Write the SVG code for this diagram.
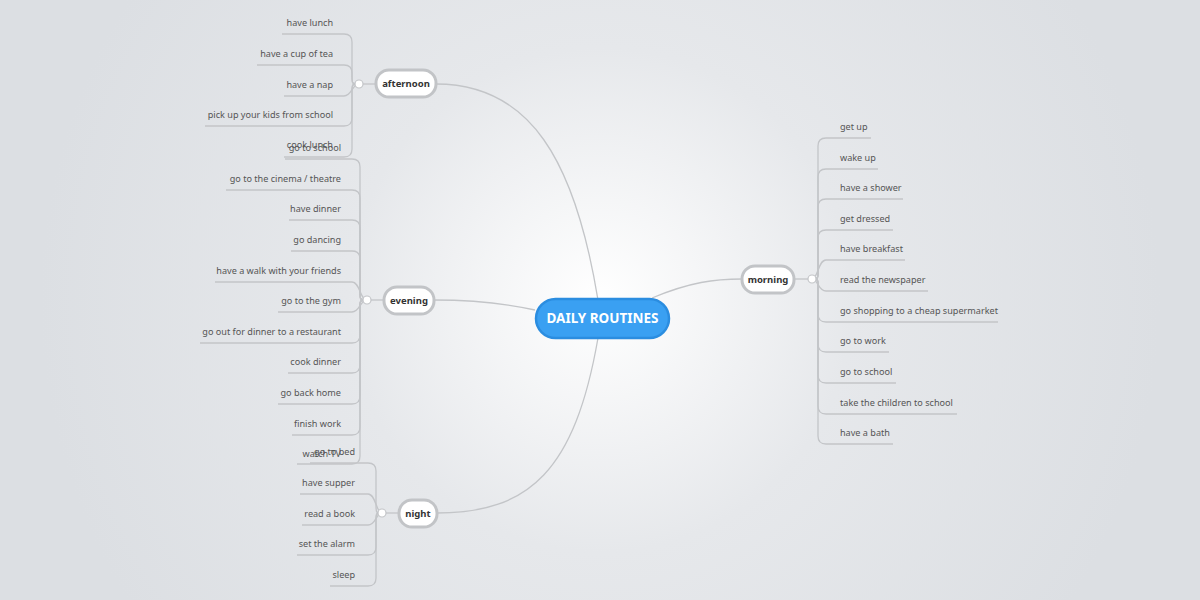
<svg xmlns="http://www.w3.org/2000/svg" width="1200" height="600" viewBox="0 0 1200 600">
<defs>
<radialGradient id="bg" cx="600" cy="300" r="560" gradientUnits="userSpaceOnUse">
<stop offset="0" stop-color="#ffffff"/><stop offset="0.45" stop-color="#e6e8eb"/><stop offset="1" stop-color="#dcdfe3"/>
</radialGradient>
<style>
.ln{fill:none;stroke:#c3c5c8;stroke-width:1.3}
.lf{font-family:"Noto Sans","Liberation Sans",sans-serif;font-size:9.1px;fill:#555}
.r{text-anchor:end}
.nd rect{fill:#fff;stroke:#c2c4c7;stroke-width:3}
.nd text{font-family:"Noto Sans","Liberation Sans",sans-serif;font-size:9.5px;font-weight:bold;fill:#333;text-anchor:middle}
.jc{fill:#fff;stroke:#c3c5c8;stroke-width:1.2}
</style>
</defs>
<rect width="1200" height="600" fill="url(#bg)"/>
<g id="connectors">
<path class="ln" d="M598,300 C575,160 530,84 436,84"/>
<path class="ln" d="M535,310 Q490,300 434,300"/>
<path class="ln" d="M598,338 C575,470 530,513 437,513"/>
<path class="ln" d="M652,298 C690,282 715,279 742,279"/>
<path class="ln" d="M376,84 H363"/>
<path class="ln" d="M384,300 H371"/>
<path class="ln" d="M399,513 H386"/>
<path class="ln" d="M794,279 H808"/>
<path class="ln" d="M359,84 C352,84 352,84 352,76 L352,42 Q352,34 344,34 H282"/>
<path class="ln" d="M359,84 C352,84 352,84 352,76 L352,73 Q352,65 344,65 H257"/>
<path class="ln" d="M359,84 C352,84 352,96 344,96 H284"/>
<path class="ln" d="M359,84 C352,84 352,84 352,92 L352,118 Q352,126 344,126 H205"/>
<path class="ln" d="M359,84 C352,84 352,84 352,92 L352,149 Q352,157 344,157 H284"/>
<path class="ln" d="M367,300 C360,300 360,300 360,292 L360,167 Q360,159 352,159 H285"/>
<path class="ln" d="M367,300 C360,300 360,300 360,292 L360,198 Q360,190 352,190 H226"/>
<path class="ln" d="M367,300 C360,300 360,300 360,292 L360,228 Q360,220 352,220 H289"/>
<path class="ln" d="M367,300 C360,300 360,300 360,292 L360,259 Q360,251 352,251 H291"/>
<path class="ln" d="M367,300 C360,300 360,282 352,282 H215"/>
<path class="ln" d="M367,300 C360,300 360,312 352,312 H278"/>
<path class="ln" d="M367,300 C360,300 360,300 360,308 L360,335 Q360,343 352,343 H200"/>
<path class="ln" d="M367,300 C360,300 360,300 360,308 L360,365 Q360,373 352,373 H288"/>
<path class="ln" d="M367,300 C360,300 360,300 360,308 L360,396 Q360,404 352,404 H278"/>
<path class="ln" d="M367,300 C360,300 360,300 360,308 L360,427 Q360,435 352,435 H292"/>
<path class="ln" d="M367,300 C360,300 360,300 360,308 L360,456 Q360,464 352,464 H297"/>
<path class="ln" d="M382,513 C376,513 376,513 376,505 L376,471 Q376,463 368,463 H310"/>
<path class="ln" d="M382,513 C376,513 376,494 368,494 H300"/>
<path class="ln" d="M382,513 C376,513 376,525 368,525 H302"/>
<path class="ln" d="M382,513 C376,513 376,513 376,521 L376,547 Q376,555 368,555 H297"/>
<path class="ln" d="M382,513 C376,513 376,513 376,521 L376,578 Q376,586 368,586 H330"/>
<path class="ln" d="M812,279 C818,279 818,279 818,271 L818,146 Q818,138 826,138 H871"/>
<path class="ln" d="M812,279 C818,279 818,279 818,271 L818,177 Q818,169 826,169 H878"/>
<path class="ln" d="M812,279 C818,279 818,279 818,271 L818,207 Q818,199 826,199 H903"/>
<path class="ln" d="M812,279 C818,279 818,279 818,271 L818,238 Q818,230 826,230 H893"/>
<path class="ln" d="M812,279 C818,279 818,260 826,260 H905"/>
<path class="ln" d="M812,279 C818,279 818,291 826,291 H928"/>
<path class="ln" d="M812,279 C818,279 818,279 818,287 L818,314 Q818,322 826,322 H998"/>
<path class="ln" d="M812,279 C818,279 818,279 818,287 L818,344 Q818,352 826,352 H889"/>
<path class="ln" d="M812,279 C818,279 818,279 818,287 L818,375 Q818,383 826,383 H896"/>
<path class="ln" d="M812,279 C818,279 818,279 818,287 L818,406 Q818,414 826,414 H957"/>
<path class="ln" d="M812,279 C818,279 818,279 818,287 L818,436 Q818,444 826,444 H893"/>
<circle class="jc" cx="359" cy="84" r="4"/>
<circle class="jc" cx="367" cy="300" r="4"/>
<circle class="jc" cx="382" cy="513" r="4"/>
<circle class="jc" cx="812" cy="279" r="4"/>
</g>
<g id="center">
<rect x="536" y="299" width="133" height="39" rx="19.5" fill="#3aa0f2" stroke="#2b8de0" stroke-width="2.5"/>
<text x="602.5" y="323" font-family="Noto Sans, Liberation Sans, sans-serif" font-size="13.5" font-weight="bold" fill="#fff" text-anchor="middle">DAILY ROUTINES</text>
</g>
<g id="afternoon" class="nd"><rect x="376" y="70" width="60" height="27" rx="13"/><text x="406" y="87">afternoon</text></g>
<g id="evening" class="nd"><rect x="384" y="287" width="50" height="27" rx="13"/><text x="409" y="304">evening</text></g>
<g id="night" class="nd"><rect x="399" y="500" width="38" height="27" rx="13"/><text x="418" y="517">night</text></g>
<g id="morning" class="nd"><rect x="742" y="266" width="52" height="27" rx="13"/><text x="768" y="283">morning</text></g>
<g id="afternoon-leaves" class="lf r">
<text x="333" y="26">have lunch</text>
<text x="333" y="57">have a cup of tea</text>
<text x="333" y="88">have a nap</text>
<text x="333" y="118">pick up your kids from school</text>
<text x="333" y="148">cook lunch</text>
</g>
<g id="evening-leaves" class="lf r">
<text x="341" y="151">go to school</text>
<text x="341" y="182">go to the cinema / theatre</text>
<text x="341" y="212">have dinner</text>
<text x="341" y="243">go dancing</text>
<text x="341" y="274">have a walk with your friends</text>
<text x="341" y="304">go to the gym</text>
<text x="341" y="335">go out for dinner to a restaurant</text>
<text x="341" y="365">cook dinner</text>
<text x="341" y="396">go back home</text>
<text x="341" y="427">finish work</text>
<text x="341" y="457">watch TV</text>
</g>
<g id="night-leaves" class="lf r">
<text x="355" y="455">go to bed</text>
<text x="355" y="486">have supper</text>
<text x="355" y="517">read a book</text>
<text x="355" y="547">set the alarm</text>
<text x="355" y="578">sleep</text>
</g>
<g id="morning-leaves" class="lf">
<text x="840" y="130">get up</text>
<text x="840" y="161">wake up</text>
<text x="840" y="191">have a shower</text>
<text x="840" y="222">get dressed</text>
<text x="840" y="252">have breakfast</text>
<text x="840" y="283">read the newspaper</text>
<text x="840" y="314">go shopping to a cheap supermarket</text>
<text x="840" y="344">go to work</text>
<text x="840" y="375">go to school</text>
<text x="840" y="406">take the children to school</text>
<text x="840" y="436">have a bath</text>
</g>
</svg>
